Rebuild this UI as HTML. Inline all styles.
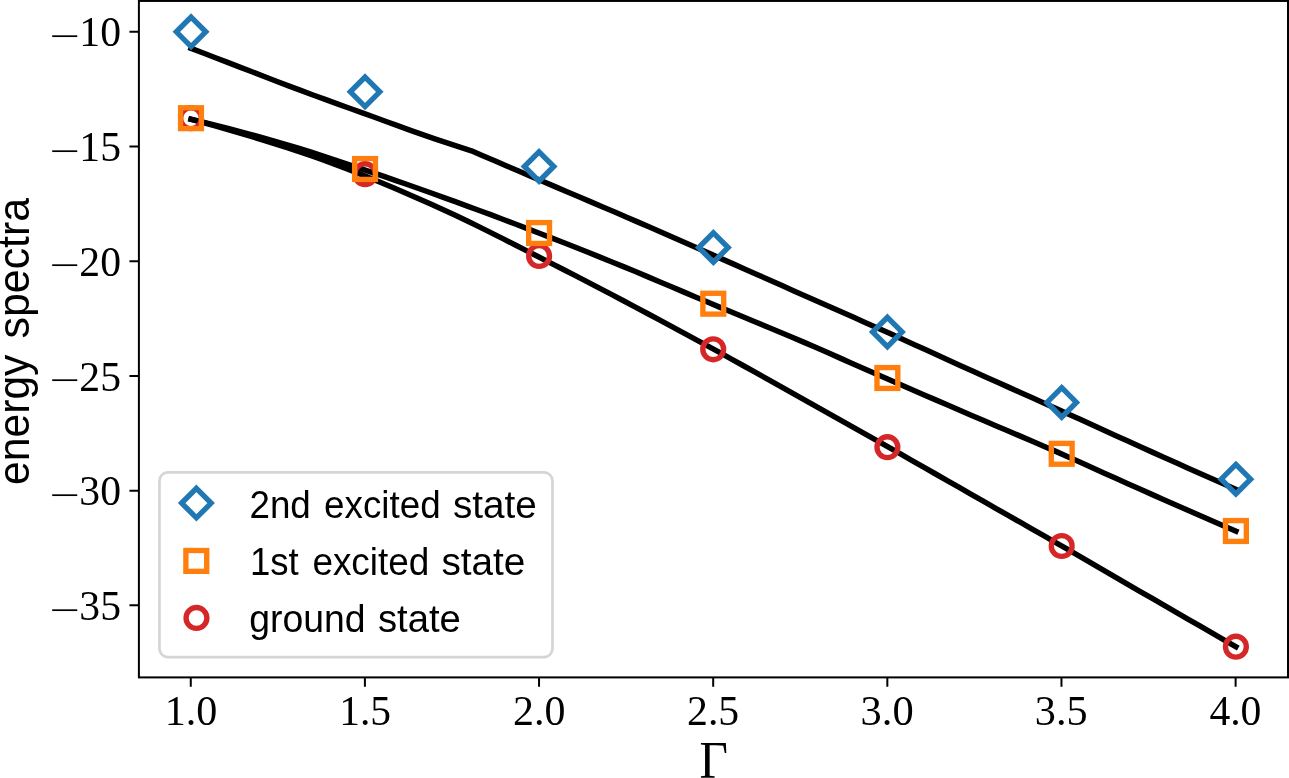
<!DOCTYPE html>
<html lang="en"><head><meta charset="utf-8"><title>energy spectra</title>
<style>html,body{margin:0;padding:0;background:#fff;overflow:hidden}svg{display:block}.tk{font-family:"Liberation Serif",serif;font-size:41.67px;fill:#000}.ss{font-family:"Liberation Sans",sans-serif;fill:#000}</style></head><body>
<svg width="1289" height="778" viewBox="0 0 1289 778">
<rect x="0" y="0" width="1289" height="778" fill="#fff"/>
<polyline points="191.07,119.30 203.08,122.51 215.09,125.83 227.10,129.26 239.11,132.78 251.12,136.38 263.13,140.06 275.14,143.80 287.15,147.62 299.16,151.59 311.17,155.70 323.17,159.95 335.18,164.37 347.19,168.95 359.20,173.67 371.21,178.52 383.22,183.48 395.23,188.54 407.24,193.70 419.25,198.96 431.26,204.32 443.27,209.78 455.28,215.33 467.29,221.03 479.30,226.88 491.31,232.85 503.32,238.90 515.33,245.00 527.34,251.12 539.35,257.23 551.36,263.34 563.37,269.48 575.38,275.67 587.38,281.89 599.39,288.14 611.40,294.42 623.41,300.74 635.42,307.08 647.43,313.46 659.44,319.88 671.45,326.33 683.46,332.81 695.47,339.33 707.48,345.87 719.49,352.45 731.50,359.08 743.51,365.76 755.52,372.46 767.53,379.19 779.54,385.93 791.55,392.66 803.56,399.39 815.57,406.12 827.58,412.85 839.59,419.59 851.59,426.34 863.60,433.10 875.61,439.88 887.62,446.67 899.63,453.48 911.64,460.31 923.65,467.15 935.66,474.01 947.67,480.86 959.68,487.72 971.69,494.58 983.70,501.43 995.71,508.28 1007.72,515.12 1019.73,521.97 1031.74,528.83 1043.75,535.70 1055.76,542.58 1067.77,549.49 1079.78,556.43 1091.79,563.39 1103.80,570.36 1115.80,577.33 1127.81,584.31 1139.82,591.27 1151.83,598.22 1163.84,605.15 1175.85,612.09 1187.86,619.02 1199.87,625.95 1211.88,632.87 1223.89,639.79 1235.90,646.70" fill="none" stroke="#000" stroke-width="5.50" stroke-linecap="square" stroke-linejoin="round"/>
<polyline points="191.07,119.30 203.08,122.15 215.09,125.11 227.10,128.16 239.11,131.31 251.12,134.54 263.13,137.87 275.14,141.28 287.15,144.79 299.16,148.44 311.17,152.22 323.17,156.09 335.18,160.04 347.19,164.04 359.20,168.06 371.21,172.09 383.22,176.18 395.23,180.32 407.24,184.51 419.25,188.75 431.26,193.03 443.27,197.35 455.28,201.69 467.29,206.07 479.30,210.49 491.31,214.95 503.32,219.46 515.33,224.00 527.34,228.58 539.35,233.20 551.36,237.85 563.37,242.55 575.38,247.29 587.38,252.07 599.39,256.89 611.40,261.75 623.41,266.64 635.42,271.58 647.43,276.60 659.44,281.66 671.45,286.76 683.46,291.87 695.47,296.98 707.48,302.06 719.49,307.09 731.50,312.07 743.51,317.03 755.52,321.99 767.53,326.96 779.54,331.96 791.55,337.01 803.56,342.12 815.57,347.32 827.58,352.59 839.59,357.89 851.59,363.21 863.60,368.54 875.61,373.84 887.62,379.10 899.63,384.32 911.64,389.52 923.65,394.72 935.66,399.90 947.67,405.07 959.68,410.24 971.69,415.41 983.70,420.56 995.71,425.68 1007.72,430.79 1019.73,435.89 1031.74,441.02 1043.75,446.18 1055.76,451.39 1067.77,456.69 1079.78,462.08 1091.79,467.52 1103.80,472.97 1115.80,478.36 1127.81,483.71 1139.82,489.04 1151.83,494.37 1163.84,499.68 1175.85,504.97 1187.86,510.25 1199.87,515.52 1211.88,520.76 1223.89,525.99 1235.90,531.20" fill="none" stroke="#000" stroke-width="5.50" stroke-linecap="square" stroke-linejoin="round"/>
<polyline points="191.07,48.40 203.26,53.04 215.45,57.70 227.63,62.37 239.82,67.07 252.01,71.78 264.20,76.55 276.39,81.28 288.58,85.90 300.76,90.45 312.95,94.96 325.14,99.42 337.33,103.86 349.52,108.25 361.71,112.62 373.89,117.02 386.08,121.47 398.27,125.92 410.46,130.33 422.65,134.64 434.84,138.82 447.02,142.86 459.21,146.86 471.40,150.80 483.35,155.94 495.29,161.07 507.24,166.19 519.18,171.31 531.13,176.43 543.07,181.54 555.02,186.63 566.96,191.71 578.91,196.78 590.85,201.85 602.80,206.94 614.74,212.05 626.69,217.20 638.63,222.38 650.58,227.58 662.52,232.81 674.47,238.05 686.42,243.31 698.36,248.57 710.31,253.84 722.25,259.11 734.20,264.39 746.14,269.68 758.09,274.99 770.03,280.29 781.98,285.60 793.92,290.90 805.87,296.20 817.81,301.49 829.76,306.78 841.70,312.06 853.65,317.35 865.60,322.66 877.54,327.98 889.49,333.34 901.43,338.72 913.38,344.14 925.32,349.58 937.27,355.02 949.21,360.46 961.16,365.89 973.10,371.30 985.05,376.67 996.99,382.03 1008.94,387.37 1020.88,392.70 1032.83,398.04 1044.78,403.39 1056.72,408.76 1068.67,414.15 1080.61,419.57 1092.56,425.01 1104.50,430.46 1116.45,435.91 1128.39,441.34 1140.34,446.75 1152.28,452.12 1164.23,457.48 1176.17,462.82 1188.12,468.15 1200.06,473.46 1212.01,478.76 1223.95,484.04 1235.90,489.30" fill="none" stroke="#000" stroke-width="5.50" stroke-linecap="square" stroke-linejoin="round"/>
<circle cx="191.00" cy="118.20" r="10.41" fill="none" stroke="#d62728" stroke-width="5.35"/>
<circle cx="365.06" cy="174.20" r="10.41" fill="none" stroke="#d62728" stroke-width="5.35"/>
<circle cx="539.10" cy="256.00" r="10.41" fill="none" stroke="#d62728" stroke-width="5.35"/>
<circle cx="713.20" cy="349.30" r="10.41" fill="none" stroke="#d62728" stroke-width="5.35"/>
<circle cx="887.40" cy="447.20" r="10.41" fill="none" stroke="#d62728" stroke-width="5.35"/>
<circle cx="1061.70" cy="546.00" r="10.41" fill="none" stroke="#d62728" stroke-width="5.35"/>
<circle cx="1235.90" cy="646.70" r="10.41" fill="none" stroke="#d62728" stroke-width="5.35"/>
<rect x="180.59" y="107.78" width="20.83" height="20.83" fill="none" stroke="#ff7f0e" stroke-width="5.35"/>
<rect x="354.63" y="158.59" width="20.83" height="20.83" fill="none" stroke="#ff7f0e" stroke-width="5.35"/>
<rect x="528.69" y="222.59" width="20.83" height="20.83" fill="none" stroke="#ff7f0e" stroke-width="5.35"/>
<rect x="702.88" y="293.28" width="20.83" height="20.83" fill="none" stroke="#ff7f0e" stroke-width="5.35"/>
<rect x="876.99" y="367.58" width="20.83" height="20.83" fill="none" stroke="#ff7f0e" stroke-width="5.35"/>
<rect x="1051.29" y="443.38" width="20.83" height="20.83" fill="none" stroke="#ff7f0e" stroke-width="5.35"/>
<rect x="1225.49" y="520.59" width="20.83" height="20.83" fill="none" stroke="#ff7f0e" stroke-width="5.35"/>
<path d="M191.07 17.07L205.80 31.80L191.07 46.53L176.34 31.80Z" fill="none" stroke="#1f77b4" stroke-width="5.35" stroke-linejoin="miter"/>
<path d="M365.05 77.07L379.78 91.80L365.05 106.53L350.32 91.80Z" fill="none" stroke="#1f77b4" stroke-width="5.35" stroke-linejoin="miter"/>
<path d="M539.05 151.77L553.78 166.50L539.05 181.23L524.32 166.50Z" fill="none" stroke="#1f77b4" stroke-width="5.35" stroke-linejoin="miter"/>
<path d="M713.40 232.77L728.13 247.50L713.40 262.23L698.67 247.50Z" fill="none" stroke="#1f77b4" stroke-width="5.35" stroke-linejoin="miter"/>
<path d="M887.40 317.27L902.13 332.00L887.40 346.73L872.67 332.00Z" fill="none" stroke="#1f77b4" stroke-width="5.35" stroke-linejoin="miter"/>
<path d="M1061.70 387.67L1076.43 402.40L1061.70 417.13L1046.97 402.40Z" fill="none" stroke="#1f77b4" stroke-width="5.35" stroke-linejoin="miter"/>
<path d="M1235.86 464.42L1250.59 479.15L1235.86 493.88L1221.13 479.15Z" fill="none" stroke="#1f77b4" stroke-width="5.35" stroke-linejoin="miter"/>
<rect x="138.90" y="0.95" width="1149.10" height="676.45" fill="none" stroke="#000" stroke-width="2.00"/>
<path d="M190.77 677.40v9.45M364.91 677.40v9.45M539.05 677.40v9.45M713.19 677.40v9.45M887.33 677.40v9.45M1061.47 677.40v9.45M1235.61 677.40v9.45M138.90 31.72h-9.45M138.90 146.45h-9.45M138.90 261.18h-9.45M138.90 375.91h-9.45M138.90 490.64h-9.45M138.90 605.37h-9.45" stroke="#000" stroke-width="2.00" fill="none"/>
<text class="tk" y="46.32"><tspan x="49.50" dy="1.70" style="font-size:35.00px" textLength="30.40" lengthAdjust="spacingAndGlyphs">−</tspan><tspan x="79.33" dy="-1.70">10</tspan></text>
<text class="tk" y="161.05"><tspan x="49.50" dy="1.70" style="font-size:35.00px" textLength="30.40" lengthAdjust="spacingAndGlyphs">−</tspan><tspan x="79.33" dy="-1.70">15</tspan></text>
<text class="tk" y="275.78"><tspan x="49.50" dy="1.70" style="font-size:35.00px" textLength="30.40" lengthAdjust="spacingAndGlyphs">−</tspan><tspan x="79.33" dy="-1.70">20</tspan></text>
<text class="tk" y="390.51"><tspan x="49.50" dy="1.70" style="font-size:35.00px" textLength="30.40" lengthAdjust="spacingAndGlyphs">−</tspan><tspan x="79.33" dy="-1.70">25</tspan></text>
<text class="tk" y="505.24"><tspan x="49.50" dy="1.70" style="font-size:35.00px" textLength="30.40" lengthAdjust="spacingAndGlyphs">−</tspan><tspan x="79.33" dy="-1.70">30</tspan></text>
<text class="tk" y="619.97"><tspan x="49.50" dy="1.70" style="font-size:35.00px" textLength="30.40" lengthAdjust="spacingAndGlyphs">−</tspan><tspan x="79.33" dy="-1.70">35</tspan></text>
<text class="tk" style="font-size:52.6px" x="713.75" y="777.6" text-anchor="middle" textLength="28.4" lengthAdjust="spacingAndGlyphs">Γ</text>
<text class="ss" style="font-size:44px" transform="translate(28.80 484.96) rotate(-90)"><tspan x="0.00" textLength="130.39" lengthAdjust="spacingAndGlyphs">energy</tspan> <tspan x="146.48" textLength="140.63" lengthAdjust="spacingAndGlyphs">spectra</tspan></text>
<rect x="159.45" y="472.4" width="393.0" height="184.7" rx="8.3" ry="8.3" fill="#fff" fill-opacity="0.8" stroke="#d5d5d5" stroke-width="2.7"/>
<path d="M196.40 488.37L211.13 503.10L196.40 517.83L181.67 503.10Z" fill="none" stroke="#1f77b4" stroke-width="5.35" stroke-linejoin="miter"/>
<rect x="185.89" y="550.49" width="20.83" height="20.83" fill="none" stroke="#ff7f0e" stroke-width="5.35"/>
<circle cx="196.47" cy="617.95" r="10.41" fill="none" stroke="#d62728" stroke-width="5.35"/>
<text class="ss" style="font-size:38px" y="517.60"><tspan x="249.43" textLength="61.38" lengthAdjust="spacingAndGlyphs">2nd</tspan> <tspan x="324.06" textLength="116.54" lengthAdjust="spacingAndGlyphs">excited</tspan> <tspan x="453.04" textLength="83.81" lengthAdjust="spacingAndGlyphs">state</tspan></text>
<text class="ss" style="font-size:38px" y="574.90"><tspan x="249.91" textLength="48.79" lengthAdjust="spacingAndGlyphs">1st</tspan> <tspan x="312.38" textLength="116.98" lengthAdjust="spacingAndGlyphs">excited</tspan> <tspan x="441.43" textLength="83.98" lengthAdjust="spacingAndGlyphs">state</tspan></text>
<text class="ss" style="font-size:38px" y="632.10"><tspan x="249.30" textLength="116.30" lengthAdjust="spacingAndGlyphs">ground</tspan> <tspan x="377.91" textLength="82.95" lengthAdjust="spacingAndGlyphs">state</tspan></text>
<text class="tk" x="164.77" y="724.50" textLength="52.62" lengthAdjust="spacingAndGlyphs">1.0</text>
<text class="tk" x="339.20" y="724.50" textLength="51.91" lengthAdjust="spacingAndGlyphs">1.5</text>
<text class="tk" x="513.05" y="724.50" textLength="52.43" lengthAdjust="spacingAndGlyphs">2.0</text>
<text class="tk" x="687.02" y="724.50" textLength="52.19" lengthAdjust="spacingAndGlyphs">2.5</text>
<text class="tk" x="860.49" y="724.50" textLength="53.17" lengthAdjust="spacingAndGlyphs">3.0</text>
<text class="tk" x="1034.84" y="724.50" textLength="52.77" lengthAdjust="spacingAndGlyphs">3.5</text>
<text class="tk" x="1209.38" y="724.50" textLength="52.07" lengthAdjust="spacingAndGlyphs">4.0</text>
</svg></body></html>
